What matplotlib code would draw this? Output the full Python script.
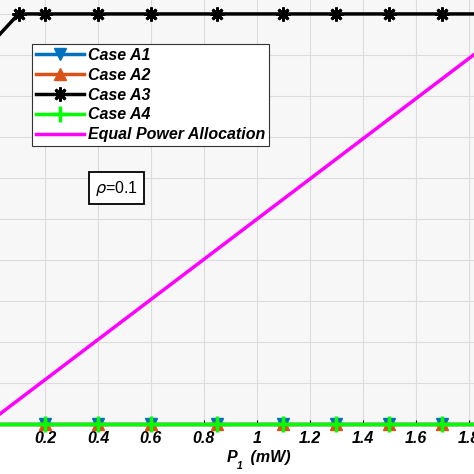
import matplotlib
matplotlib.use("Agg")
import matplotlib.pyplot as plt

plt.rcParams['font.family'] = ['Liberation Sans', 'DejaVu Sans']

x_marks = [0.2, 0.4, 0.6, 0.85, 1.1, 1.3, 1.5, 1.7]
x_line = [0.0, 0.1, 0.2, 0.4, 0.6, 0.85, 1.1, 1.3, 1.5, 1.7, 1.9]
a1 = [0, 0, 0, 0, 0, 0, 0, 0, 0, 0, 0]
a2 = [0, 0, 0, 0, 0, 0, 0, 0, 0, 0, 0]
a3 = [9.3, 10, 10, 10, 10, 10, 10, 10, 10, 10, 10]
a4 = [0, 0, 0, 0, 0, 0, 0, 0, 0, 0, 0]
eq_x = [0.0, 1.9]
eq_y = [0.1, 9.4]
xticks = [0.2, 0.4, 0.6, 0.8, 1.0, 1.2, 1.4, 1.6, 1.8]
xticklabels = ['0.2', '0.4', '0.6', '0.8', '1', '1.2', '1.4', '1.6', '1.8']

fig = plt.figure(figsize=(4.74, 4.74), dpi=100)
ax = fig.add_axes([0, (474-424)/474, 1, 424/474])
ax.set_facecolor('#f7f7f7')
idx = [x_line.index(v) for v in x_marks]
kw = dict(markevery=idx, clip_on=False)
ax.plot(x_line, a1, '-v', color='#0072BD', lw=2.5, ms=9, label='Case A1', **kw)
ax.plot(x_line, a2, '-^', color='#D95319', lw=2.5, ms=9, label='Case A2', **kw)
ax.plot(x_line, a3, '-', marker=(8, 2, 0), color='black', lw=2.5, ms=10, mew=2,
        label='Case A3', markevery=[1]+idx, clip_on=False)
ax.plot(x_line, a4, '-+', color='#00FF00', lw=2.5, ms=12, mew=2.5, label='Case A4', **kw)
ax.plot(eq_x, eq_y, '-', color='#FF00FF', lw=2.5, label='Equal Power Allocation')

ax.set_xlim(0.03, 1.82)
ax.set_ylim(0, 10.34)
ax.set_xticks(xticks)
ax.set_xticklabels(xticklabels, fontsize=11.5, fontweight='bold', style='italic')
ax.set_yticks(range(1, 11))
ax.set_yticklabels([])
ax.grid(True, color='#dcdcdc', lw=0.8)
ax.tick_params(axis='x', direction='in', length=3, pad=5)
ax.tick_params(axis='y', direction='in', length=0)
for s in ax.spines.values():
    s.set_visible(False)
fig.text(0.5, 0.025, 'P', fontsize=11.5, fontweight='bold', style='italic', ha='right')
fig.text(0.5, 0.011, '1', fontsize=7.5, fontweight='bold', style='italic', ha='left')
fig.text(0.518, 0.025, ' (mW)', fontsize=11.5, fontweight='bold', style='italic', ha='left')

leg = ax.legend(loc='upper left', bbox_to_anchor=(32/474, 1-44/424), fancybox=False,
                framealpha=1, edgecolor='#333333', borderpad=0.25, labelspacing=0.3,
                handlelength=3.0, handletextpad=0.25, borderaxespad=0,
                prop={'weight': 'bold', 'style': 'italic', 'size': 11.5})
leg.get_frame().set_linewidth(0.8)
ax.text(0.47, 5.75, r'$\rho$=0.1', fontsize=11.5, ha='center', va='center',
        bbox=dict(boxstyle='square,pad=0.4', fc='white', ec='black', lw=1.3))
fig.savefig('out.png', dpi=100)
